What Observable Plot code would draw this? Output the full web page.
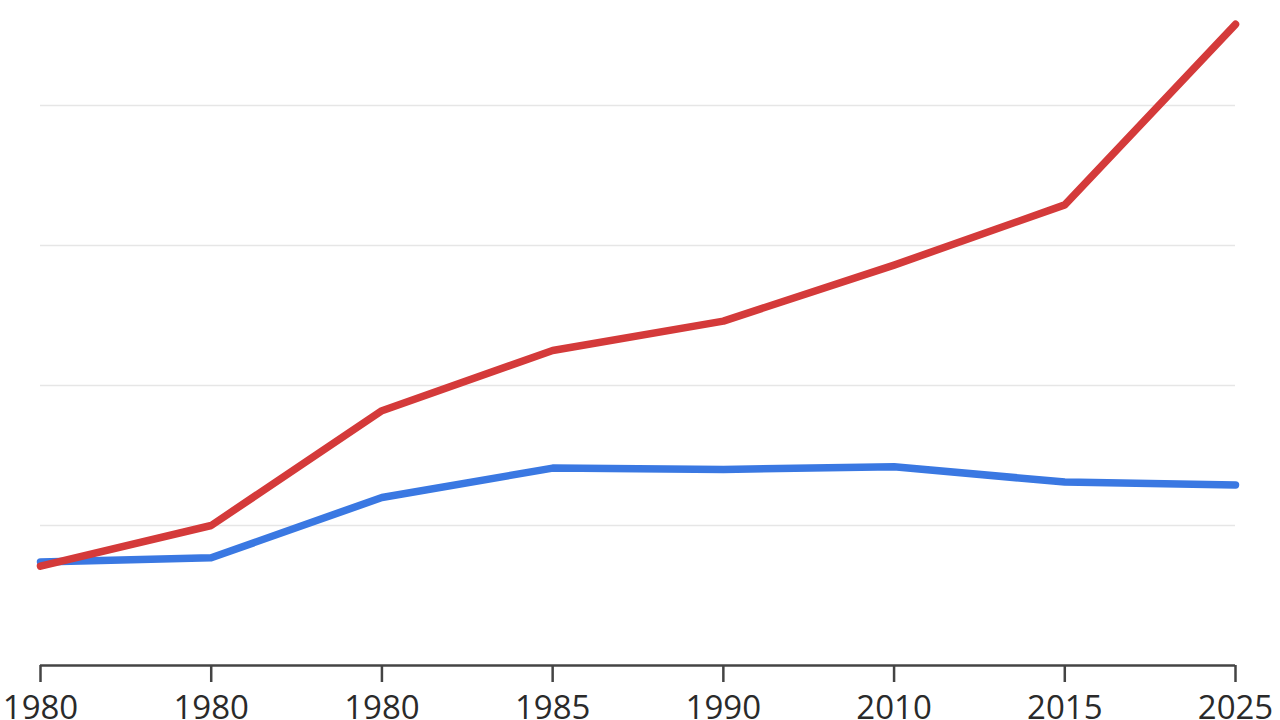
<!DOCTYPE html>
<html>
<head>
<meta charset="utf-8">
<script src="https://cdn.jsdelivr.net/npm/d3@7"></script>
<script src="https://cdn.jsdelivr.net/npm/@observablehq/plot@0.6"></script>
<style>
  html, body { margin: 0; padding: 0; background: #fff; overflow: hidden; }
  #chart svg { display: block; }
</style>
</head>
<body>
<div id="chart"></div>
<script>
const tickLabels = ["1980", "1980", "1980", "1985", "1990", "2010", "2015", "2025"];
const redValues  = [0.71, 1.0, 1.82, 2.25, 2.46, 2.86, 3.29, 4.58];
const blueValues = [0.74, 0.77, 1.2, 1.41, 1.40, 1.42, 1.31, 1.29];
const gridValues = [1, 2, 3, 4];
const seriesNames = ["Series A", "Series B"];
const seriesColors = ["#d43a3a", "#3a78e2"];

const rows = [
  ...redValues.map((v, i) => ({i, v, s: seriesNames[0]})),
  ...blueValues.map((v, i) => ({i, v, s: seriesNames[1]}))
];

const chart = Plot.plot({
  width: 1280,
  height: 720,
  marginLeft: 40,
  marginRight: 45,
  marginTop: 21,
  marginBottom: 55,
  style: {fontFamily: "'Open Sans', 'Noto Sans', sans-serif", background: "#fff", overflow: "visible"},
  x: {type: "point", domain: d3.range(tickLabels.length), padding: 0, round: false, axis: null},
  y: {domain: [0, 4.6], axis: null},
  color: {domain: seriesNames, range: seriesColors},
  marks: [
    Plot.ruleY(gridValues, {stroke: "#e6e6e6", strokeWidth: 1.5}),
    Plot.ruleY([0], {stroke: "#444", strokeWidth: 2.5}),
    Plot.axisX({
      label: null,
      tickSize: 17,
      tickPadding: 13,
      tickFormat: i => tickLabels[i],
      fontSize: 33,
      stroke: "#444",
      strokeWidth: 2.5,
      fill: "#2a2a2a"
    }),
    Plot.line(rows.filter(d => d.s === seriesNames[1]), {x: "i", y: "v", stroke: "s", strokeWidth: 7.5, strokeLinecap: "round", strokeLinejoin: "round"}),
    Plot.line(rows.filter(d => d.s === seriesNames[0]), {x: "i", y: "v", stroke: "s", strokeWidth: 7.5, strokeLinecap: "round", strokeLinejoin: "round"})
  ]
});
document.getElementById("chart").append(chart);
</script>
</body>
</html>
